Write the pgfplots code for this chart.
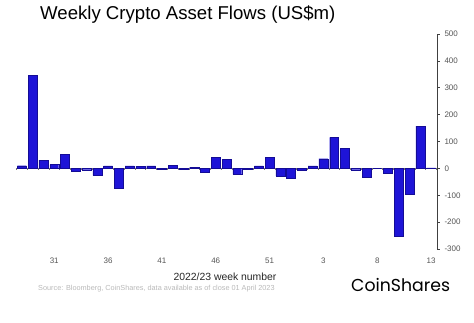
\documentclass[border=0pt]{standalone}
\usepackage{pgfplots}
\pgfplotsset{compat=1.18}
\usepackage{fontspec}
\setmainfont{Liberation Sans}
\newfontfamily\logofont{Poppins}
\definecolor{barblue}{RGB}{30,20,215}
\definecolor{baredge}{RGB}{20,12,150}
\definecolor{ticktext}{RGB}{85,85,85}
\definecolor{srcgray}{RGB}{185,185,185}
\begin{document}
\begin{tikzpicture}[x=1pt,y=1pt]
\useasboundingbox (0,0) rectangle (474,322);
\node[anchor=base west,inner sep=0pt,font=\fontsize{18.6}{21}\selectfont] at (40,302.5) {Weekly Crypto Asset Flows (US\$m)};
\begin{axis}[
  at={(16pt,73pt)}, anchor=south west,
  width=421pt, height=215pt, scale only axis,
  xmin=-0.55, xmax=38.55, ymin=-300, ymax=500,
  axis y line*=right, axis x line*=bottom,
  x axis line style={draw=none},
  y axis line style={draw=black!75, line width=0.6pt},
  xtick={3,8,13,18,23,28,33,38},
  xticklabels={31,36,41,46,51,3,8,13},
  ytick={-300,-200,...,500},
  x tick style={draw=none},
  y tick style={draw=black!75, line width=0.6pt},
  tick align=outside, major tick length=2.5pt,
  tick label style={font=\fontsize{8}{9}\selectfont, text=ticktext},
  /pgf/number format/assume math mode=true,
  xticklabel style={yshift=-3pt},
  yticklabel style={xshift=1.5pt},
  ybar, bar width=0.83,
  clip=false,
]
\draw[black!55, line width=0.5pt] (axis cs:-0.55,0) -- (axis cs:38.55,0);
\pgfplotsinvokeforeach{-0.5,0.5,...,38.5}{
  \draw[black!55, line width=0.5pt] (axis cs:#1,0) -- ([yshift=-2pt]axis cs:#1,0);
}
\addplot[fill=barblue, draw=baredge, line width=0.3pt] coordinates {
(0,10) (1,347) (2,31) (3,14) (4,52) (5,-12) (6,-5) (7,-26) (8,9) (9,-73)
(10,9) (11,8) (12,9) (13,-3) (14,11) (15,-2) (16,5) (17,-13) (18,41) (19,33)
(20,-22) (21,-4) (22,9) (23,42) (24,-28) (25,-36) (26,-8) (27,9) (28,36) (29,115)
(30,74) (31,-5) (32,-32) (33,0) (34,-17) (35,-254) (36,-95) (37,157) (38,2)
};
\end{axis}
\node[anchor=base,inner sep=0pt,font=\fontsize{10.4}{12}\selectfont, text=black!85] at (225,41.5) {2022/23 week number};
\node[anchor=base west,inner sep=0pt,font=\fontsize{7.3}{8}\selectfont, text=srcgray] at (38,31.5) {Source: Bloomberg, CoinShares, data available as of close 01 April 2023};
\node[anchor=base west,inner sep=0pt,font=\logofont\fontsize{17.3}{19}\selectfont] at (351,31) {CoinShares};
\end{tikzpicture}
\end{document}
